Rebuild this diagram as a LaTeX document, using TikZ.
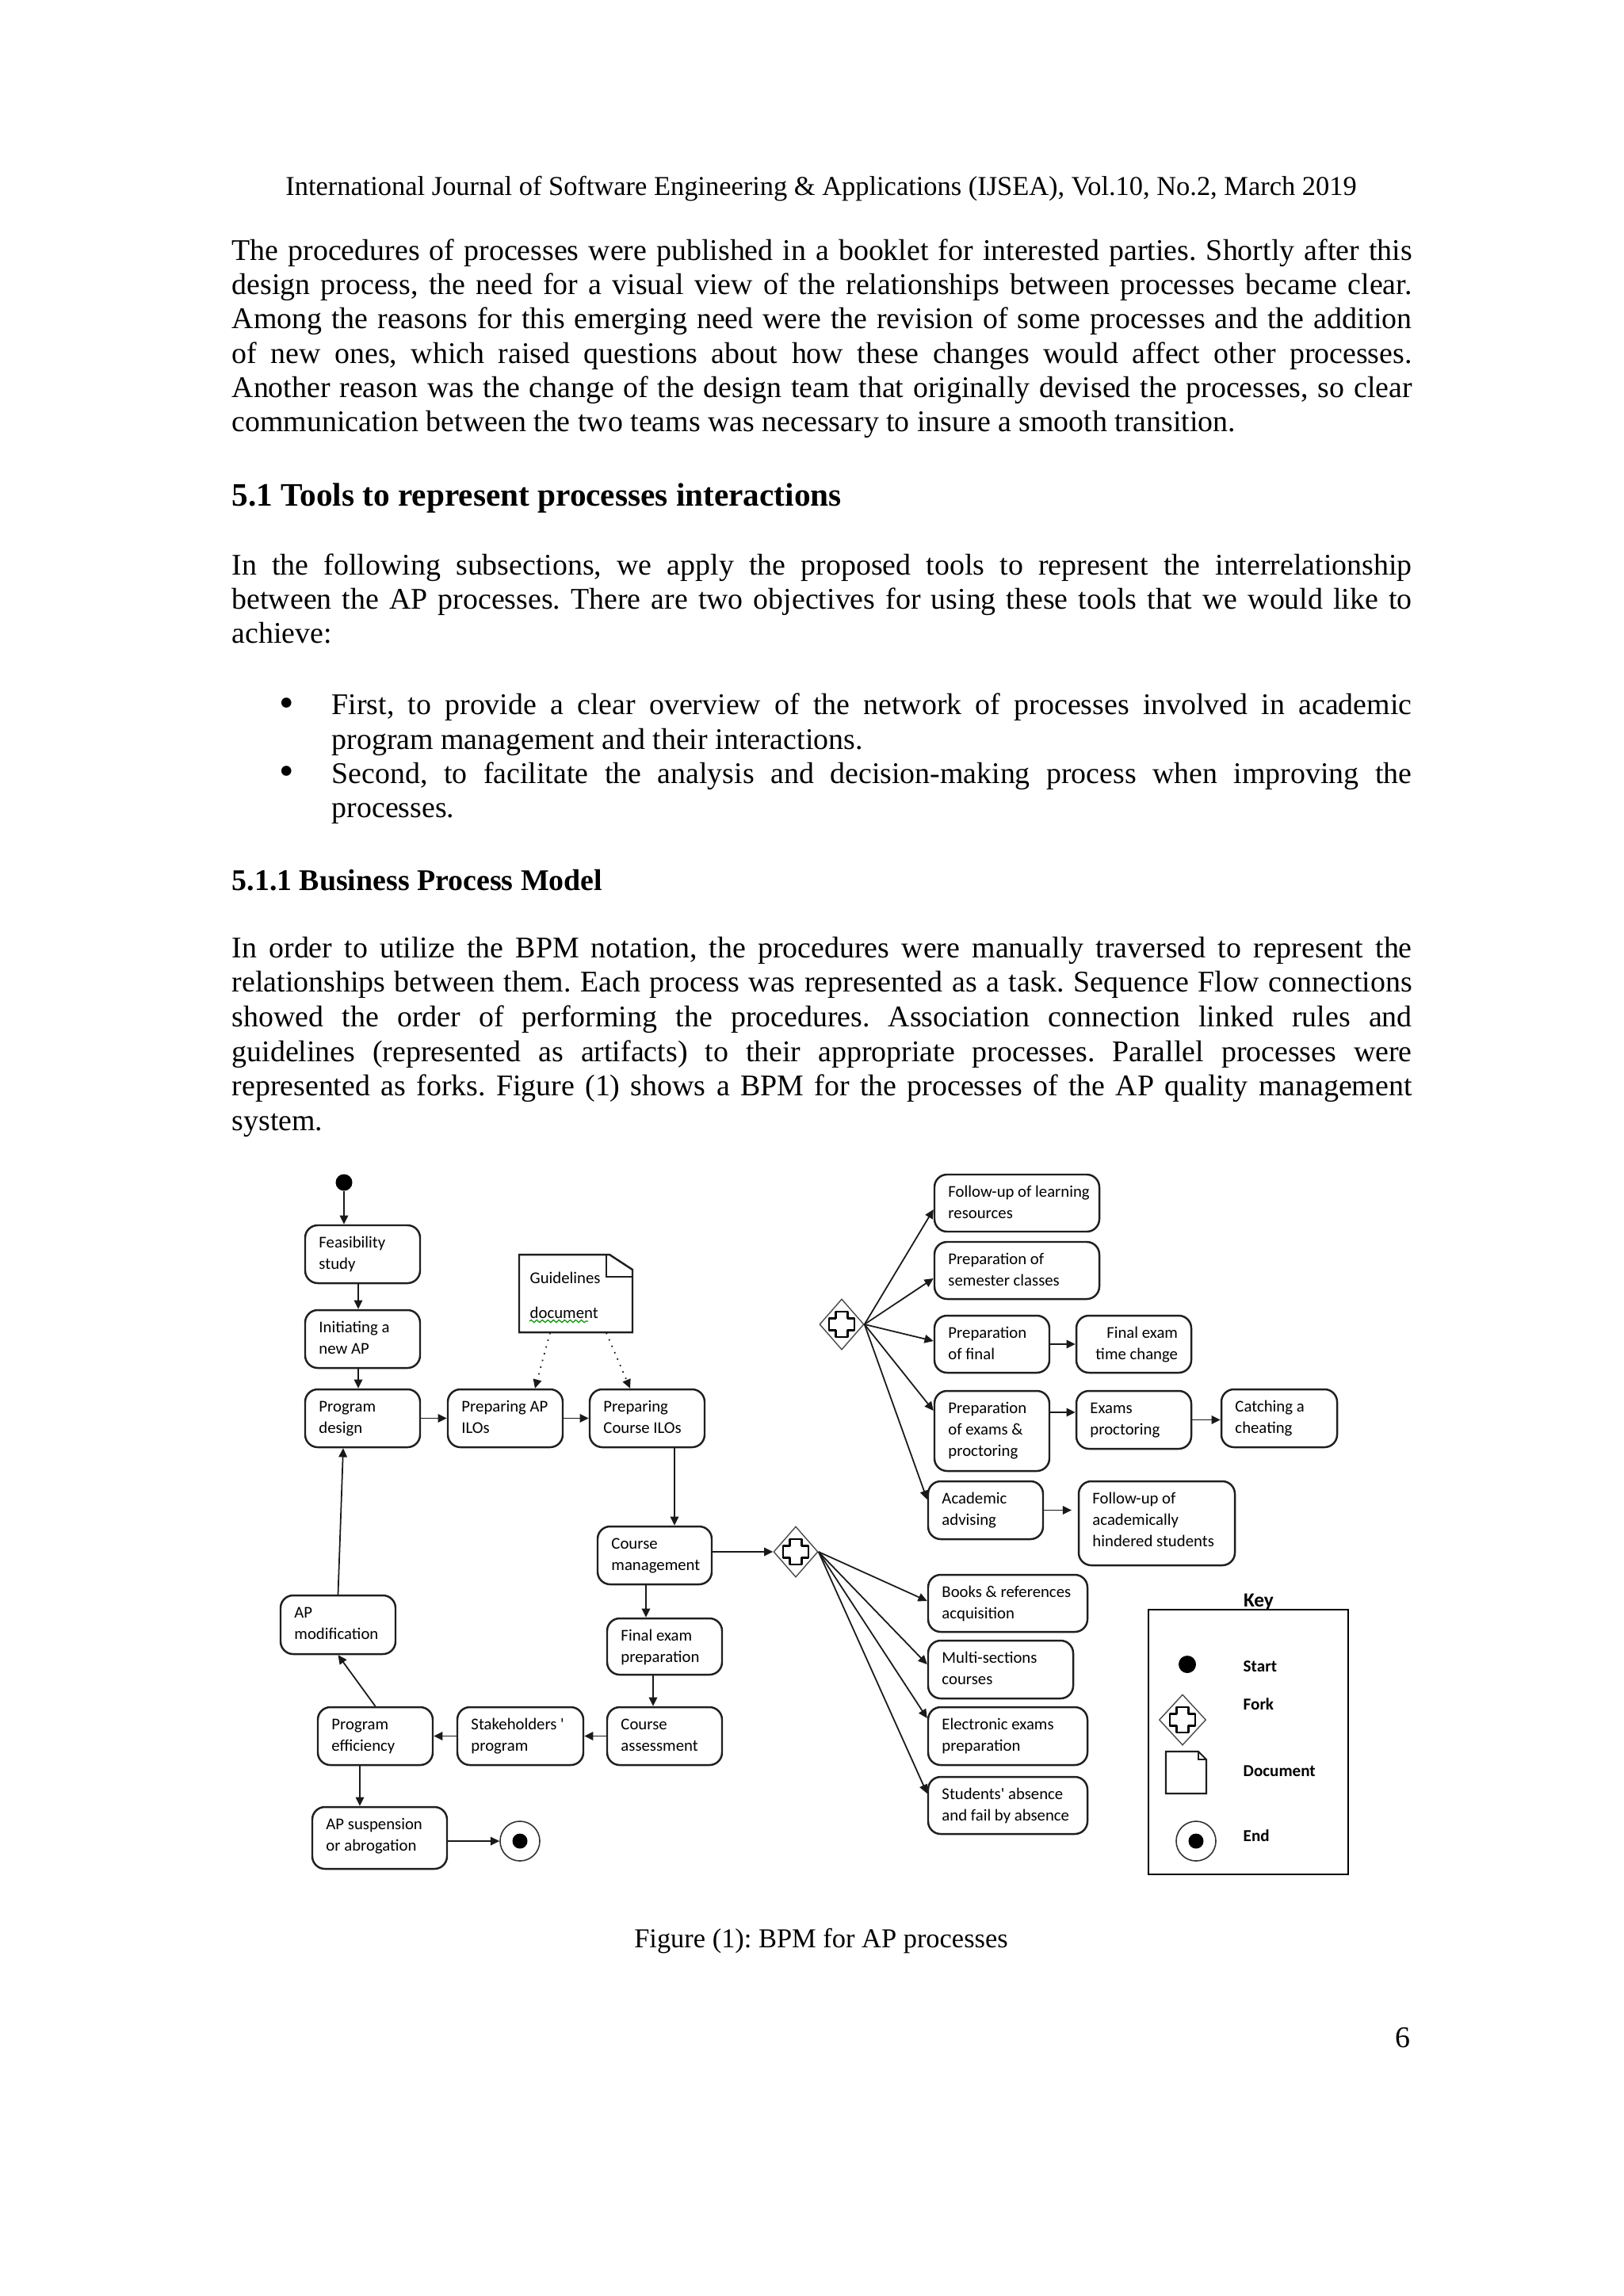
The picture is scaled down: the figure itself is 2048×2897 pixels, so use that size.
\documentclass[tikz,border=0pt]{standalone}
\usepackage{fontspec}
\setmainfont{Liberation Serif}
\newfontfamily\calib{Carlito}
\usetikzlibrary{arrows.meta,shapes.geometric,fit,calc,decorations.pathmorphing}
\frenchspacing
\newlength{\tw}\setlength{\tw}{423.4pt}
\newlength{\bw}\setlength{\bw}{387.5pt}
\tikzset{
  body/.style={font=\fontsize{10.77}{12.35}\selectfont, inner sep=0pt, anchor=base west},
  box/.style={draw=black!88, line width=0.7pt, rounded corners=4.5pt, inner sep=0pt},
  btxt/.style={font=\calib\fontsize{5.9}{7.7}\selectfont, inner sep=0pt, align=left, anchor=north west},
  ktxt/.style={font=\calib\bfseries\fontsize{6}{7}\selectfont, inner sep=0pt, anchor=base west},
  arr/.style={-{Triangle[length=3.2pt,width=3pt]}, line width=0.5pt, draw=black!90},
  dotarr/.style={arr, dotted},
  fork/.style={diamond, draw=black!70, line width=0.4pt, minimum width=0.56cm, minimum height=0.64cm, inner sep=0pt},
  plusline/.style={line width=0.75pt, line join=round, draw=black},
  bullet/.style={font=\fontsize{15}{15}\selectfont, inner sep=0pt, anchor=base},
}
\newcommand{\jl}[3]{\node[body] (#1) at (292,#2) {\makebox[\tw][s]{#3}};}
\newcommand{\lastline}[3]{\node[body] (#1) at (292,#2) {#3};}
\newcommand{\bl}[3]{\node[body] (#1) at (418,#2) {\makebox[\bw][s]{#3}};}
\newcommand{\procbox}[6]{\node[box, fit={(#2,#3)(#4,#5)}] (#1) {};
  \node[btxt] (#1-t) at ($(#1.north west)+(18,11.4)$) {\rule{0pt}{5pt}#6};}
\newcommand{\forkplus}[1]{\draw[plusline, shift={(#1.center)}] (-7.5,-16) -- (7.5,-16) -- (7.5,-7.5) -- (16,-7.5) -- (16,7.5) -- (7.5,7.5) -- (7.5,16) -- (-7.5,16) -- (-7.5,7.5) -- (-16,7.5) -- (-16,-7.5) -- (-7.5,-7.5) -- cycle;}
\begin{document}
\begin{tikzpicture}[x=0.01cm,y=-0.01cm]
\useasboundingbox[fill=white] (0,0) rectangle (2048,2897);

% ---------- page text ----------
\node[font=\fontsize{9.79}{11}\selectfont, anchor=base, inner sep=0pt] (hdr) at (1036,246.7)
  {International Journal of Software Engineering \& Applications (IJSEA), Vol.10, No.2, March 2019};

\jl{p1a}{328.3}{The procedures of processes were published in a booklet for interested parties. Shortly after this}
\jl{p1b}{371.6}{design process, the need for a visual view of the relationships between processes became clear.}
\jl{p1c}{414.9}{Among the reasons for this emerging need were the revision of some processes and the addition}
\jl{p1d}{458.2}{of new ones, which raised questions about how these changes would affect other processes.}
\jl{p1e}{501.5}{Another reason was the change of the design team that originally devised the processes, so clear}
\lastline{p1f}{544.8}{communication between the two teams was necessary to insure a smooth transition.}

\node[body, font=\bfseries\fontsize{11.74}{13}\selectfont] (h51) at (292,638.3) {5.1 Tools to represent processes interactions};

\jl{p2a}{725}{In the following subsections, we apply the proposed tools to represent the interrelationship}
\jl{p2b}{768.3}{between the AP processes. There are two objectives for using these tools that we would like to}
\lastline{p2c}{811.6}{achieve:}

\node[bullet] (bul1) at (362,904) {•};
\bl{b1a}{901.7}{First, to provide a clear overview of the network of processes involved in academic}
\node[body] (b1b) at (418,945) {program management and their interactions.};
\node[bullet] (bul2) at (362,990.6) {•};
\bl{b2a}{988.3}{Second, to facilitate the analysis and decision-making process when improving the}
\node[body] (b2b) at (418,1031.6) {processes.};

\node[body, font=\bfseries\fontsize{10.77}{12}\selectfont] (h511) at (292,1123) {5.1.1 Business Process Model};

\jl{p3a}{1208}{In order to utilize the BPM notation, the procedures were manually traversed to represent the}
\jl{p3b}{1251.7}{relationships between them. Each process was represented as a task. Sequence Flow connections}
\jl{p3c}{1295.4}{showed the order of performing the procedures. Association connection linked rules and}
\jl{p3d}{1339.1}{guidelines (represented as artifacts) to their appropriate processes. Parallel processes were}
\jl{p3e}{1382.8}{represented as forks. Figure (1) shows a BPM for the processes of the AP quality management}
\lastline{p3f}{1426.5}{system.}

\node[font=\fontsize{9.79}{11}\selectfont, anchor=base, inner sep=0pt] (cap) at (1036,2457) {Figure (1): BPM for AP processes};
\node[body, anchor=base east] (pgno) at (1780,2583) {6};

% ---------- diagram ----------
\node[circle, fill=black, minimum size=0.21cm, inner sep=0pt] (st) at (434,1492) {};

\procbox{fs}{385}{1546}{530}{1619}{Feasibility\\study}
\procbox{ini}{385}{1653}{530}{1726}{Initiating a\\new AP}
\procbox{pd}{385}{1753}{530}{1826}{Program\\design}
\procbox{pap}{565}{1753}{710}{1826}{Preparing AP\\ILOs}
\procbox{pci}{744}{1753}{889}{1826}{Preparing\\Course ILOs}
\procbox{cm}{754}{1926}{898}{1999}{Course\\management}
\procbox{fep}{766}{2042}{911}{2113}{Final exam\\preparation}
\procbox{ca}{766}{2154}{911}{2227}{Course\\assessment}
\procbox{sp}{577}{2154}{736}{2227}{Stakeholders '\\program}
\procbox{pe}{401}{2154}{546}{2227}{Program\\efficiency}
\procbox{apm}{354}{2013}{499}{2087}{AP\\modification}
\procbox{aps}{394}{2280}{564}{2358}{AP suspension\\or abrogation}

\procbox{ful}{1179}{1482}{1387}{1554}{Follow-up of learning\\resources}
\procbox{psc}{1179}{1567}{1387}{1639}{Preparation of\\semester classes}
\procbox{pof}{1179}{1660}{1324}{1732}{Preparation\\of final}
\node[box, fit={(1358,1660)(1503,1732)}] (fetc) {};
\node[btxt, align=right, anchor=north east] (fetc-t) at ($(fetc.north east)+(-17.5,11.4)$) {\rule{0pt}{5pt}Final exam\\time change};
\procbox{pep}{1179}{1755}{1324}{1856}{Preparation\\of exams \&\\proctoring}
\procbox{exp}{1358}{1755}{1503}{1828}{Exams\\proctoring}
\procbox{cac}{1541}{1753}{1687}{1826}{Catching a\\cheating}
\procbox{aa}{1171}{1869}{1316}{1942}{Academic\\advising}
\procbox{fah}{1361}{1869}{1558}{1975}{Follow-up of\\academically\\hindered students}
\procbox{bra}{1171}{1987}{1372}{2059}{Books \& references\\acquisition}
\procbox{msc}{1171}{2070}{1354}{2143}{Multi-sections\\courses}
\procbox{eep}{1171}{2154}{1372}{2227}{Electronic exams\\preparation}
\procbox{sab}{1171}{2242}{1372}{2314}{Students' absence\\and fail by absence}

% document artifact
\node[fit={(655,1583)(798,1681)}, inner sep=0pt] (doc) {};
\draw[line width=0.7pt, black!88] (655,1583) -- (769,1583) -- (798,1602) -- (798,1681) -- (655,1681) -- cycle;
\draw[line width=0.6pt, black!88] (765,1583) -- (765,1611) -- (798,1611);
\node[btxt, anchor=base west] (doc-t1) at (668,1619) {Guidelines};
\node[btxt, anchor=base west] (doc-t2) at (668,1663) {document};
\draw[green!60!black, line width=0.35pt, decorate, decoration={snake, segment length=2pt, amplitude=0.45pt}] (668,1667) -- (742,1667);

% forks
\node[fork] (f1) at (1062,1671) {};
\forkplus{f1}
\node[fork] (f2) at (1004,1958) {};
\forkplus{f2}

% end
\node[circle, draw=black!80, line width=0.45pt, minimum size=0.5cm, inner sep=0pt] (en) at (656,2323) {};
\node[circle, fill=black, minimum size=0.19cm, inner sep=0pt] (en-in) at (en.center) {};

% connectors
\draw[arr] (st) -- (st |- fs.north);
\coordinate (a1) at ($(fs.south)+(-5.5,0)$);
\draw[arr] (a1) -- (a1 |- ini.north);
\coordinate (a2) at ($(ini.south)+(-5.5,0)$);
\draw[arr] (a2) -- (a2 |- pd.north);
\draw[arr] (pd) -- (pap);
\draw[arr] (pap) -- (pci);
\coordinate (a3) at ($(pci.south)+(34.5,0)$);
\draw[arr] (a3) -- (a3 |- cm.north);
\draw[arr] (cm.east |- f2.west) -- (f2.west);
\coordinate (a4) at ($(cm.south)+(-11,0)$);
\draw[arr] (a4) -- (a4 |- fep.north);
\coordinate (a5) at ($(fep.south)+(-14.5,0)$);
\draw[arr] (a5) -- (a5 |- ca.north);
\draw[arr] (ca) -- (sp);
\draw[arr] (sp) -- (pe);
\draw[arr] (pe.north) -- (apm.south);
\coordinate (a6) at ($(pd.south)+(-24.5,0)$);
\draw[arr] (apm.north) -- (a6);
\coordinate (a7) at ($(pe.south)+(-19.5,0)$);
\draw[arr] (a7) -- (a7 |- aps.north);
\draw[arr] (aps.east |- en.west) -- (en.west);

\draw[dotarr] ($(doc.south)+(-32.5,0)$) -- ($(pap.north)+(37.5,0)$);
\draw[dotarr] ($(doc.south)+(38.5,0)$) -- ($(pci.north)+(-21.5,0)$);

\draw[arr] (f1.east) -- ($(ful.west)+(0,8)$);
\draw[arr] (f1.east) -- ($(psc.west)+(0,10)$);
\draw[arr] (f1.east) -- ($(pof.west)+(0,-4)$);
\draw[arr] (f1.east) -- ($(pep.west)+(0,-25.5)$);
\draw[arr] (f1.east) -- ($(aa.west)+(0,-13.5)$);

\draw[arr] (pof) -- (fetc);
\coordinate (a8) at ($(exp.west)+(0,-9.5)$);
\draw[arr] (a8 -| pep.east) -- (a8);
\draw[arr] (exp.east) -- (exp.east -| cac.west);
\draw[arr, shorten >=2.2pt] (aa.east) -- (aa.east -| fah.west);

\draw[arr] (f2.east) -- ($(bra.west)+(0,-3)$);
\draw[arr] (f2.east) -- ($(msc.west)+(0,-6.5)$);
\draw[arr] (f2.east) -- ($(eep.west)+(0,-22.5)$);
\draw[arr] (f2.east) -- ($(sab.west)+(0,-15)$);

% key
\node[draw=black, line width=0.7pt, fit={(1449,2031)(1701,2365)}, inner sep=0pt] (key) {};
\node[font=\calib\bfseries\fontsize{7.2}{8}\selectfont, anchor=base, inner sep=0pt] (key-t) at (1588,2027) {Key};
\node[circle, fill=black, minimum size=0.22cm, inner sep=0pt] (k-st) at (1498,2100) {};
\node[ktxt] (k-st-t) at (1568,2109) {Start};
\node[fork, minimum width=0.59cm, minimum height=0.64cm] (k-f) at (1492,2170) {};
\forkplus{k-f}
\node[ktxt] (k-f-t) at (1568,2157) {Fork};
\node[fit={(1471,2210)(1522,2263)}, inner sep=0pt] (k-doc) {};
\draw[line width=0.6pt, black!88] (1471,2210) -- (1512,2210) -- (1522,2220) -- (1522,2263) -- (1471,2263) -- cycle;
\draw[line width=0.4pt, black!88] (1512,2210) -- (1512,2220) -- (1522,2220);
\node[ktxt] (k-doc-t) at (1568,2241) {Document};
\node[circle, draw=black!80, line width=0.45pt, minimum size=0.5cm, inner sep=0pt] (k-en) at (1509,2323) {};
\node[circle, fill=black, minimum size=0.19cm, inner sep=0pt] (k-en-in) at (k-en.center) {};
\node[ktxt] (k-en-t) at (1568,2323) {End};
\end{tikzpicture}
\end{document}
